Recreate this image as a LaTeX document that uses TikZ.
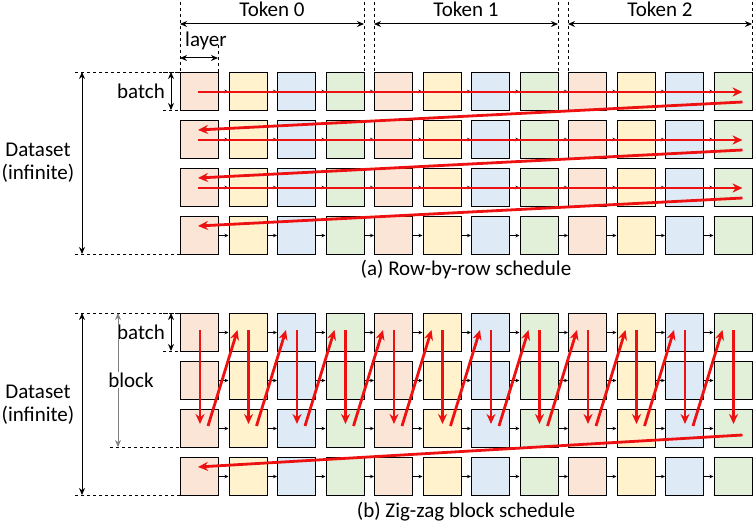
\documentclass[tikz,border=0pt]{standalone}
\usepackage{fontspec}
\setmainfont{Carlito}
\usetikzlibrary{calc,arrows.meta}
\definecolor{cP}{HTML}{FBE5D6}\definecolor{cY}{HTML}{FFF2CC}
\definecolor{cB}{HTML}{DEEBF7}\definecolor{cG}{HTML}{E2F0D9}
\definecolor{rd}{HTML}{EE1111}
\begin{document}
\begin{tikzpicture}[x=1pt,y=-1pt,
 box/.style={draw,line width=1pt,minimum size=38pt,inner sep=0,anchor=north west},
 sm/.style={-{Stealth[length=4pt,width=3.5pt]},line width=0.7pt},
 red/.style={draw=rd,line width=2.8pt,-{Stealth[length=10pt,width=9pt]}},
 dim/.style={{Stealth[length=7pt,width=6pt]}-{Stealth[length=7pt,width=6pt]},line width=1pt},
 dsh/.style={dashed,line width=0.9pt},
 lbl/.style={font=\fontsize{21}{23}\selectfont,align=center,inner sep=1pt}]
\useasboundingbox (0,0) rectangle (753,527);
\foreach \p/\Y in {a/72,b/313}{
 \foreach \r in {0,...,3}{
  \foreach \c [evaluate=\c as \k using {int(mod(\c,4))}] in {0,...,11}{
   \ifcase\k \def\cc{cP}\or\def\cc{cY}\or\def\cc{cB}\or\def\cc{cG}\fi
   \node[box,fill=\cc] (\p\r-\c) at ({180+48.5*\c},{\Y+48*\r}) {};
  }
  \foreach \c [evaluate=\c as \n using {int(\c+1)}] in {0,...,10}{
   \draw[sm] (\p\r-\c.east) -- (\p\r-\n.west);}
 }}
% top dims
\foreach \x in {180,364,374,558,568,752}{\draw[dsh] (\x,2) -- (\x,72);}
\coordinate (t0a) at (180,24);\coordinate (t0b) at (364,24);
\coordinate (t1a) at (374,24);\coordinate (t1b) at (558,24);
\coordinate (t2a) at (568,24);\coordinate (t2b) at (752,24);
\draw[dim] (t0a)--(t0b); \draw[dim] (t1a)--(t1b); \draw[dim] (t2a)--(t2b);
\node[lbl] (tk0) at (272,9) {Token 0};
\node[lbl] (tk1) at (466,9) {Token 1};
\node[lbl] (tk2) at (660,9) {Token 2};
\draw[dsh] (218,45) -- (218,72);
\coordinate (la) at (180,58);\coordinate (lb) at (218,58);
\draw[dim] (la)--(lb);
\node[lbl] (lay) at (206,41) {layer};
% batch/dataset top
\foreach \Y in {72,110}{\draw[dsh] (163,\Y)--(180,\Y);}
\draw[dim] (171,72)--(171,110);
\node[lbl,anchor=east] (bt1) at (166,91) {batch};
\foreach \Y in {72,254}{\draw[dsh] (75,\Y)--(180,\Y);}
\draw[dim] (82,72)--(82,254);
\node[lbl] (ds1) at (38,163) {Dataset\\(infinite)};
\node[lbl] (capa) at (466,270) {(a) Row-by-row schedule};
% red top
\foreach \r [evaluate=\r as \n using {int(\r+1)}] in {0,1,2}{
 \draw[red] ([xshift=18pt,yshift=-20pt]a\r-0.north west) -- ([xshift=-10pt,yshift=-20pt]a\r-11.north east);
 \draw[red] ([xshift=-10pt,yshift=-30pt]a\r-11.north east) -- ([xshift=18pt,yshift=-10pt]a\n-0.north west);
}
% bottom dims
\foreach \Y in {313,351}{\draw[dsh] (163,\Y)--(180,\Y);}
\draw[dim] (171,313)--(171,351);
\node[lbl,anchor=east] (bt2) at (166,332) {batch};
\foreach \Y in {313,495}{\draw[dsh] (75,\Y)--(180,\Y);}
\draw[dsh] (110,447)--(180,447);
\draw[dim] (82,313)--(82,495);
\draw[dim,gray] (118,313)--(118,447);
\node[lbl,fill=white] (blk) at (131,380) {block};
\node[lbl] (ds2) at (38,405) {Dataset\\(infinite)};
\node[lbl] (capb) at (466,512) {(b) Zig-zag block schedule};
% red bottom
\foreach \c [evaluate=\c as \n using {int(\c+1)}] in {0,...,11}{
 \draw[red] ([xshift=20pt,yshift=-17pt]b0-\c.north west) -- ([xshift=20pt,yshift=-15pt]b2-\c.north west);
 \ifnum\c<11
 \draw[red] ([xshift=28pt,yshift=-17pt]b2-\c.north west) -- ([xshift=9pt,yshift=-17pt]b0-\n.north west);
 \fi
}
\draw[red] ([xshift=-10pt,yshift=-26pt]b2-11.north east) -- ([xshift=18pt,yshift=-10pt]b3-0.north west);
\end{tikzpicture}
\end{document}
